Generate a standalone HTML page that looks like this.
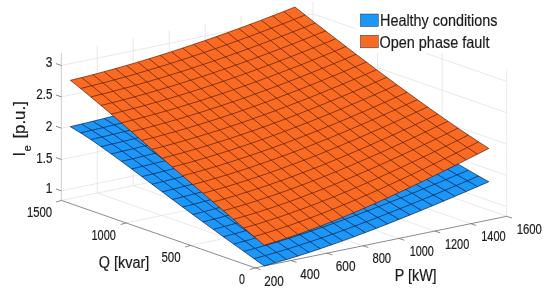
<!DOCTYPE html>
<html><head><meta charset="utf-8"><title>Excitation current surface</title>
<style>
html,body{margin:0;padding:0;background:#fff;}
svg{display:block;filter:blur(0.3px);}
.gr{stroke:#e0e0e0;stroke-width:0.7;}
.ax{stroke:#666;stroke-width:0.75;}
.axz{stroke:#d2d2d2;stroke-width:1.1;}
.sb{stroke:rgba(5,25,60,0.78);stroke-width:0.85;stroke-linejoin:round;}
.so{stroke:rgba(70,15,0,0.72);stroke-width:0.85;stroke-linejoin:round;}
.sw{stroke:#333;stroke-width:0.5;}
</style></head><body>
<svg width="550" height="301" viewBox="0 0 550 301">
<rect width="550" height="301" fill="#fff"/>
<g><line x1="97.33" y1="193.03" x2="97.33" y2="45.60" class="gr"/><line x1="133.26" y1="185.66" x2="133.26" y2="38.23" class="gr"/><line x1="169.19" y1="178.29" x2="169.19" y2="30.86" class="gr"/><line x1="205.12" y1="170.92" x2="205.12" y2="23.49" class="gr"/><line x1="241.05" y1="163.55" x2="241.05" y2="16.12" class="gr"/><line x1="276.98" y1="156.18" x2="276.98" y2="8.75" class="gr"/><line x1="312.91" y1="148.81" x2="312.91" y2="1.38" class="gr"/><line x1="61.40" y1="190.80" x2="312.91" y2="139.21" class="gr"/><line x1="312.91" y1="139.21" x2="506.71" y2="206.71" class="gr"/><line x1="61.40" y1="159.48" x2="312.91" y2="107.89" class="gr"/><line x1="312.91" y1="107.89" x2="506.71" y2="175.39" class="gr"/><line x1="61.40" y1="128.15" x2="312.91" y2="76.56" class="gr"/><line x1="312.91" y1="76.56" x2="506.71" y2="144.06" class="gr"/><line x1="61.40" y1="96.83" x2="312.91" y2="45.24" class="gr"/><line x1="312.91" y1="45.24" x2="506.71" y2="112.74" class="gr"/><line x1="61.40" y1="65.50" x2="312.91" y2="13.91" class="gr"/><line x1="312.91" y1="13.91" x2="506.71" y2="81.41" class="gr"/><line x1="506.71" y1="216.31" x2="506.71" y2="68.88" class="gr"/><line x1="442.11" y1="193.81" x2="442.11" y2="46.38" class="gr"/><line x1="377.51" y1="171.31" x2="377.51" y2="23.88" class="gr"/><line x1="291.13" y1="260.53" x2="97.33" y2="193.03" class="gr"/><line x1="327.06" y1="253.16" x2="133.26" y2="185.66" class="gr"/><line x1="362.99" y1="245.79" x2="169.19" y2="178.29" class="gr"/><line x1="398.92" y1="238.42" x2="205.12" y2="170.92" class="gr"/><line x1="434.85" y1="231.05" x2="241.05" y2="163.55" class="gr"/><line x1="470.78" y1="223.68" x2="276.98" y2="156.18" class="gr"/><line x1="506.71" y1="216.31" x2="312.91" y2="148.81" class="gr"/><line x1="190.60" y1="245.40" x2="442.11" y2="193.81" class="gr"/><line x1="126.00" y1="222.90" x2="377.51" y2="171.31" class="gr"/><line x1="61.40" y1="200.40" x2="312.91" y2="148.81" class="gr"/></g>
<g><line x1="61.40" y1="200.40" x2="61.40" y2="52.97" class="axz"/><line x1="255.20" y1="267.90" x2="61.40" y2="200.40" class="ax"/><line x1="255.20" y1="267.90" x2="506.71" y2="216.31" class="ax"/><line x1="61.40" y1="190.80" x2="55.90" y2="188.90" class="ax"/><line x1="61.40" y1="159.48" x2="55.90" y2="157.58" class="ax"/><line x1="61.40" y1="128.15" x2="55.90" y2="126.25" class="ax"/><line x1="61.40" y1="96.83" x2="55.90" y2="94.93" class="ax"/><line x1="61.40" y1="65.50" x2="55.90" y2="63.60" class="ax"/><line x1="255.20" y1="267.90" x2="249.80" y2="269.50" class="ax"/><line x1="190.60" y1="245.40" x2="185.20" y2="247.00" class="ax"/><line x1="126.00" y1="222.90" x2="120.60" y2="224.50" class="ax"/><line x1="61.40" y1="200.40" x2="56.00" y2="202.00" class="ax"/><line x1="255.20" y1="267.90" x2="260.60" y2="269.70" class="ax"/><line x1="291.13" y1="260.53" x2="296.53" y2="262.33" class="ax"/><line x1="327.06" y1="253.16" x2="332.46" y2="254.96" class="ax"/><line x1="362.99" y1="245.79" x2="368.39" y2="247.59" class="ax"/><line x1="398.92" y1="238.42" x2="404.32" y2="240.22" class="ax"/><line x1="434.85" y1="231.05" x2="440.25" y2="232.85" class="ax"/><line x1="470.78" y1="223.68" x2="476.18" y2="225.48" class="ax"/><line x1="506.71" y1="216.31" x2="512.11" y2="218.11" class="ax"/></g>
<polygon points="264.18,265.92 275.41,262.80 286.64,259.50 297.87,256.05 309.09,252.45 320.32,248.71 331.55,244.84 342.78,240.86 354.01,236.76 365.24,232.56 376.46,228.27 387.69,223.90 398.92,219.45 410.15,214.93 421.38,210.35 432.60,205.70 443.83,201.01 455.06,196.26 466.29,191.47 477.52,186.64 488.75,181.77 478.55,176.00 468.35,170.13 458.14,164.16 447.94,158.11 437.75,151.98 427.55,145.77 417.35,139.49 407.15,133.15 396.95,126.75 386.75,120.29 376.55,113.78 366.35,107.23 356.15,100.63 345.95,93.98 335.75,87.30 325.55,80.59 315.35,73.84 305.15,67.06 294.95,60.25 283.72,64.15 272.49,68.00 261.26,71.80 250.03,75.54 238.80,79.23 227.58,82.86 216.35,86.43 205.12,89.93 193.89,93.38 182.66,96.76 171.44,100.07 160.21,103.32 148.98,106.49 137.75,109.60 126.52,112.63 115.29,115.59 104.07,118.48 92.84,121.29 81.61,124.02 70.38,126.68 80.58,132.89 90.78,139.57 100.98,146.60 111.18,153.88 121.38,161.35 131.58,168.92 141.78,176.55 151.98,184.20 162.18,191.83 172.38,199.43 182.58,206.99 192.78,214.49 202.98,221.95 213.18,229.35 223.38,236.72 233.58,244.05 243.78,251.36 253.98,258.65" fill="#1c96f7" class="sb"/><path d="M275.41,262.80 L265.21,255.58 L255.01,248.33 L244.81,241.07 L234.61,233.77 L224.41,226.44 L214.21,219.07 L204.01,211.65 L193.81,204.18 L183.61,196.66 L173.41,189.09 L163.21,181.49 L153.01,173.88 L142.81,166.28 L132.61,158.73 L122.41,151.29 L112.21,144.01 L102.01,136.98 L91.81,130.28 L81.61,124.02 M286.64,259.50 L276.44,252.34 L266.24,245.16 L256.04,237.94 L245.84,230.69 L235.64,223.40 L225.44,216.07 L215.24,208.69 L205.04,201.26 L194.84,193.77 L184.64,186.24 L174.44,178.68 L164.24,171.11 L154.04,163.54 L143.84,156.03 L133.64,148.61 L123.44,141.34 L113.24,134.31 L103.04,127.59 L92.84,121.29 M297.87,256.05 L287.67,248.96 L277.47,241.83 L267.27,234.67 L257.07,227.48 L246.87,220.24 L236.67,212.95 L226.47,205.61 L216.27,198.23 L206.07,190.78 L195.87,183.30 L185.67,175.78 L175.47,168.24 L165.27,160.71 L155.07,153.23 L144.87,145.84 L134.67,138.59 L124.47,131.56 L114.27,124.82 L104.07,118.48 M309.09,252.45 L298.89,245.43 L288.69,238.38 L278.50,231.28 L268.29,224.14 L258.09,216.95 L247.89,209.72 L237.69,202.43 L227.50,195.09 L217.29,187.69 L207.09,180.25 L196.89,172.78 L186.69,165.28 L176.50,157.80 L166.29,150.35 L156.09,142.98 L145.90,135.76 L135.69,128.73 L125.50,121.97 L115.29,115.59 M320.32,248.71 L310.12,241.77 L299.92,234.79 L289.72,227.76 L279.52,220.68 L269.32,213.55 L259.12,206.37 L248.92,199.13 L238.72,191.84 L228.52,184.50 L218.32,177.11 L208.12,169.68 L197.92,162.23 L187.72,154.79 L177.52,147.38 L167.32,140.05 L157.12,132.84 L146.92,125.82 L136.72,119.05 L126.52,112.63 M331.55,244.84 L321.35,237.99 L311.15,231.08 L300.95,224.12 L290.75,217.10 L280.55,210.04 L270.35,202.91 L260.15,195.73 L249.95,188.50 L239.75,181.20 L229.55,173.87 L219.35,166.49 L209.15,159.09 L198.95,151.70 L188.75,144.33 L178.55,137.03 L168.35,129.84 L158.15,122.83 L147.95,116.05 L137.75,109.60 M342.78,240.86 L332.58,234.09 L322.38,227.26 L312.18,220.37 L301.98,213.42 L291.78,206.42 L281.58,199.35 L271.38,192.23 L261.18,185.05 L250.98,177.82 L240.78,170.53 L230.58,163.21 L220.38,155.87 L210.18,148.52 L199.98,141.19 L189.78,133.93 L179.58,126.77 L169.38,119.77 L159.18,112.98 L148.98,106.49 M354.01,236.76 L343.81,230.08 L333.61,223.33 L323.41,216.51 L313.21,209.63 L303.01,202.70 L292.81,195.70 L282.61,188.64 L272.41,181.52 L262.21,174.34 L252.01,167.11 L241.81,159.85 L231.61,152.56 L221.41,145.26 L211.21,137.98 L201.01,130.75 L190.81,123.62 L180.61,116.63 L170.41,109.84 L160.21,103.32 M365.24,232.56 L355.04,225.97 L344.84,219.30 L334.64,212.56 L324.44,205.75 L314.24,198.88 L304.04,191.94 L293.84,184.95 L283.64,177.89 L273.44,170.77 L263.24,163.61 L253.04,156.40 L242.84,149.16 L232.64,141.92 L222.44,134.69 L212.24,127.50 L202.04,120.39 L191.84,113.42 L181.64,106.62 L171.44,100.07 M376.46,228.27 L366.26,221.76 L356.06,215.17 L345.86,208.51 L335.66,201.78 L325.46,194.97 L315.26,188.10 L305.06,181.17 L294.86,174.18 L284.66,167.12 L274.46,160.02 L264.26,152.87 L254.06,145.69 L243.86,138.50 L233.66,131.32 L223.46,124.17 L213.26,117.10 L203.06,110.14 L192.86,103.34 L182.66,96.76 M387.69,223.90 L377.49,217.48 L367.29,210.97 L357.09,204.38 L346.89,197.71 L336.69,190.98 L326.49,184.18 L316.29,177.31 L306.09,170.38 L295.89,163.39 L285.69,156.35 L275.49,149.26 L265.29,142.14 L255.09,135.01 L244.89,127.88 L234.69,120.77 L224.49,113.73 L214.29,106.79 L204.09,99.98 L193.89,93.38 M398.92,219.45 L388.72,213.11 L378.52,206.68 L368.32,200.16 L358.12,193.57 L347.92,186.91 L337.72,180.18 L327.52,173.37 L317.32,166.51 L307.12,159.58 L296.92,152.61 L286.72,145.58 L276.52,138.52 L266.32,131.44 L256.12,124.36 L245.92,117.30 L235.72,110.29 L225.52,103.37 L215.32,96.57 L205.12,89.93 M410.15,214.93 L399.95,208.67 L389.75,202.31 L379.55,195.87 L369.35,189.36 L359.15,182.76 L348.95,176.10 L338.75,169.36 L328.55,162.56 L318.35,155.70 L308.15,148.79 L297.95,141.83 L287.75,134.83 L277.55,127.81 L267.35,120.78 L257.15,113.77 L246.95,106.79 L236.75,99.89 L226.55,93.08 L216.35,86.43 M421.38,210.35 L411.18,204.16 L400.98,197.88 L390.78,191.52 L380.58,185.07 L370.38,178.54 L360.18,171.95 L349.98,165.28 L339.78,158.55 L329.58,151.75 L319.38,144.90 L309.18,138.00 L298.98,131.07 L288.78,124.11 L278.58,117.13 L268.38,110.16 L258.18,103.23 L247.98,96.34 L237.78,89.54 L227.58,82.86 M432.60,205.70 L422.40,199.59 L412.20,193.39 L402.00,187.09 L391.80,180.72 L381.60,174.26 L371.40,167.73 L361.20,161.13 L351.00,154.46 L340.80,147.73 L330.60,140.95 L320.40,134.12 L310.20,127.24 L300.00,120.34 L289.80,113.42 L279.60,106.50 L269.40,99.60 L259.20,92.73 L249.00,85.93 L238.80,79.23 M443.83,201.01 L433.63,194.97 L423.43,188.84 L413.23,182.61 L403.03,176.30 L392.83,169.91 L382.63,163.45 L372.43,156.91 L362.23,150.31 L352.03,143.65 L341.83,136.93 L331.63,130.16 L321.43,123.35 L311.23,116.51 L301.03,109.65 L290.83,102.77 L280.63,95.91 L270.43,89.06 L260.23,82.27 L250.03,75.54 M455.06,196.26 L444.86,190.30 L434.66,184.23 L424.46,178.07 L414.26,171.83 L404.06,165.51 L393.86,159.11 L383.66,152.64 L373.46,146.10 L363.26,139.51 L353.06,132.86 L342.86,126.15 L332.66,119.41 L322.46,112.62 L312.26,105.81 L302.06,98.99 L291.86,92.16 L281.66,85.34 L271.46,78.55 L261.26,71.80 M466.29,191.47 L456.09,185.57 L445.89,179.58 L435.69,173.48 L425.49,167.31 L415.29,161.05 L405.09,154.71 L394.89,148.31 L384.69,141.84 L374.49,135.31 L364.29,128.72 L354.09,122.08 L343.89,115.40 L333.69,108.68 L323.49,101.92 L313.29,95.15 L303.09,88.36 L292.89,81.56 L282.69,74.77 L272.49,68.00 M477.52,186.64 L467.32,180.81 L457.12,174.87 L446.92,168.85 L436.72,162.73 L426.52,156.54 L416.32,150.27 L406.12,143.93 L395.92,137.52 L385.72,131.05 L375.52,124.53 L365.32,117.96 L355.12,111.34 L344.92,104.68 L334.72,97.98 L324.52,91.25 L314.32,84.50 L304.12,77.73 L293.92,70.94 L283.72,64.15 M253.98,258.65 L265.21,255.58 L276.44,252.34 L287.67,248.96 L298.89,245.43 L310.12,241.77 L321.35,237.99 L332.58,234.09 L343.81,230.08 L355.04,225.97 L366.26,221.76 L377.49,217.48 L388.72,213.11 L399.95,208.67 L411.18,204.16 L422.40,199.59 L433.63,194.97 L444.86,190.30 L456.09,185.57 L467.32,180.81 L478.55,176.00 M243.78,251.36 L255.01,248.33 L266.24,245.16 L277.47,241.83 L288.69,238.38 L299.92,234.79 L311.15,231.08 L322.38,227.26 L333.61,223.33 L344.84,219.30 L356.06,215.17 L367.29,210.97 L378.52,206.68 L389.75,202.31 L400.98,197.88 L412.20,193.39 L423.43,188.84 L434.66,184.23 L445.89,179.58 L457.12,174.87 L468.35,170.13 M233.58,244.05 L244.81,241.07 L256.04,237.94 L267.27,234.67 L278.50,231.28 L289.72,227.76 L300.95,224.12 L312.18,220.37 L323.41,216.51 L334.64,212.56 L345.86,208.51 L357.09,204.38 L368.32,200.16 L379.55,195.87 L390.78,191.52 L402.00,187.09 L413.23,182.61 L424.46,178.07 L435.69,173.48 L446.92,168.85 L458.14,164.16 M223.38,236.72 L234.61,233.77 L245.84,230.69 L257.07,227.48 L268.29,224.14 L279.52,220.68 L290.75,217.10 L301.98,213.42 L313.21,209.63 L324.44,205.75 L335.66,201.78 L346.89,197.71 L358.12,193.57 L369.35,189.36 L380.58,185.07 L391.80,180.72 L403.03,176.30 L414.26,171.83 L425.49,167.31 L436.72,162.73 L447.94,158.11 M213.18,229.35 L224.41,226.44 L235.64,223.40 L246.87,220.24 L258.09,216.95 L269.32,213.55 L280.55,210.04 L291.78,206.42 L303.01,202.70 L314.24,198.88 L325.46,194.97 L336.69,190.98 L347.92,186.91 L359.15,182.76 L370.38,178.54 L381.60,174.26 L392.83,169.91 L404.06,165.51 L415.29,161.05 L426.52,156.54 L437.75,151.98 M202.98,221.95 L214.21,219.07 L225.44,216.07 L236.67,212.95 L247.89,209.72 L259.12,206.37 L270.35,202.91 L281.58,199.35 L292.81,195.70 L304.04,191.94 L315.26,188.10 L326.49,184.18 L337.72,180.18 L348.95,176.10 L360.18,171.95 L371.40,167.73 L382.63,163.45 L393.86,159.11 L405.09,154.71 L416.32,150.27 L427.55,145.77 M192.78,214.49 L204.01,211.65 L215.24,208.69 L226.47,205.61 L237.69,202.43 L248.92,199.13 L260.15,195.73 L271.38,192.23 L282.61,188.64 L293.84,184.95 L305.06,181.17 L316.29,177.31 L327.52,173.37 L338.75,169.36 L349.98,165.28 L361.20,161.13 L372.43,156.91 L383.66,152.64 L394.89,148.31 L406.12,143.93 L417.35,139.49 M182.58,206.99 L193.81,204.18 L205.04,201.26 L216.27,198.23 L227.50,195.09 L238.72,191.84 L249.95,188.50 L261.18,185.05 L272.41,181.52 L283.64,177.89 L294.86,174.18 L306.09,170.38 L317.32,166.51 L328.55,162.56 L339.78,158.55 L351.00,154.46 L362.23,150.31 L373.46,146.10 L384.69,141.84 L395.92,137.52 L407.15,133.15 M172.38,199.43 L183.61,196.66 L194.84,193.77 L206.07,190.78 L217.29,187.69 L228.52,184.50 L239.75,181.20 L250.98,177.82 L262.21,174.34 L273.44,170.77 L284.66,167.12 L295.89,163.39 L307.12,159.58 L318.35,155.70 L329.58,151.75 L340.80,147.73 L352.03,143.65 L363.26,139.51 L374.49,135.31 L385.72,131.05 L396.95,126.75 M162.18,191.83 L173.41,189.09 L184.64,186.24 L195.87,183.30 L207.09,180.25 L218.32,177.11 L229.55,173.87 L240.78,170.53 L252.01,167.11 L263.24,163.61 L274.46,160.02 L285.69,156.35 L296.92,152.61 L308.15,148.79 L319.38,144.90 L330.60,140.95 L341.83,136.93 L353.06,132.86 L364.29,128.72 L375.52,124.53 L386.75,120.29 M151.98,184.20 L163.21,181.49 L174.44,178.68 L185.67,175.78 L196.89,172.78 L208.12,169.68 L219.35,166.49 L230.58,163.21 L241.81,159.85 L253.04,156.40 L264.26,152.87 L275.49,149.26 L286.72,145.58 L297.95,141.83 L309.18,138.00 L320.40,134.12 L331.63,130.16 L342.86,126.15 L354.09,122.08 L365.32,117.96 L376.55,113.78 M141.78,176.55 L153.01,173.88 L164.24,171.11 L175.47,168.24 L186.69,165.28 L197.92,162.23 L209.15,159.09 L220.38,155.87 L231.61,152.56 L242.84,149.16 L254.06,145.69 L265.29,142.14 L276.52,138.52 L287.75,134.83 L298.98,131.07 L310.20,127.24 L321.43,123.35 L332.66,119.41 L343.89,115.40 L355.12,111.34 L366.35,107.23 M131.58,168.92 L142.81,166.28 L154.04,163.54 L165.27,160.71 L176.50,157.80 L187.72,154.79 L198.95,151.70 L210.18,148.52 L221.41,145.26 L232.64,141.92 L243.86,138.50 L255.09,135.01 L266.32,131.44 L277.55,127.81 L288.78,124.11 L300.00,120.34 L311.23,116.51 L322.46,112.62 L333.69,108.68 L344.92,104.68 L356.15,100.63 M121.38,161.35 L132.61,158.73 L143.84,156.03 L155.07,153.23 L166.29,150.35 L177.52,147.38 L188.75,144.33 L199.98,141.19 L211.21,137.98 L222.44,134.69 L233.66,131.32 L244.89,127.88 L256.12,124.36 L267.35,120.78 L278.58,117.13 L289.80,113.42 L301.03,109.65 L312.26,105.81 L323.49,101.92 L334.72,97.98 L345.95,93.98 M111.18,153.88 L122.41,151.29 L133.64,148.61 L144.87,145.84 L156.09,142.98 L167.32,140.05 L178.55,137.03 L189.78,133.93 L201.01,130.75 L212.24,127.50 L223.46,124.17 L234.69,120.77 L245.92,117.30 L257.15,113.77 L268.38,110.16 L279.60,106.50 L290.83,102.77 L302.06,98.99 L313.29,95.15 L324.52,91.25 L335.75,87.30 M100.98,146.60 L112.21,144.01 L123.44,141.34 L134.67,138.59 L145.90,135.76 L157.12,132.84 L168.35,129.84 L179.58,126.77 L190.81,123.62 L202.04,120.39 L213.26,117.10 L224.49,113.73 L235.72,110.29 L246.95,106.79 L258.18,103.23 L269.40,99.60 L280.63,95.91 L291.86,92.16 L303.09,88.36 L314.32,84.50 L325.55,80.59 M90.78,139.57 L102.01,136.98 L113.24,134.31 L124.47,131.56 L135.69,128.73 L146.92,125.82 L158.15,122.83 L169.38,119.77 L180.61,116.63 L191.84,113.42 L203.06,110.14 L214.29,106.79 L225.52,103.37 L236.75,99.89 L247.98,96.34 L259.20,92.73 L270.43,89.06 L281.66,85.34 L292.89,81.56 L304.12,77.73 L315.35,73.84 M80.58,132.89 L91.81,130.28 L103.04,127.59 L114.27,124.82 L125.50,121.97 L136.72,119.05 L147.95,116.05 L159.18,112.98 L170.41,109.84 L181.64,106.62 L192.86,103.34 L204.09,99.98 L215.32,96.57 L226.55,93.08 L237.78,89.54 L249.00,85.93 L260.23,82.27 L271.46,78.55 L282.69,74.77 L293.92,70.94 L305.15,67.06" fill="none" class="sb"/>
<polygon points="264.18,245.21 275.41,241.82 286.64,238.21 297.87,234.39 309.09,230.37 320.32,226.17 331.55,221.80 342.78,217.26 354.01,212.58 365.24,207.76 376.46,202.82 387.69,197.76 398.92,192.59 410.15,187.33 421.38,181.99 432.60,176.56 443.83,171.05 455.06,165.48 466.29,159.85 477.52,154.16 488.75,148.42 478.55,141.80 468.35,135.05 458.14,128.18 447.94,121.19 437.75,114.10 427.55,106.90 417.35,99.61 407.15,92.24 396.95,84.79 386.75,77.27 376.55,69.68 366.35,62.02 356.15,54.31 345.95,46.54 335.75,38.73 325.55,30.86 315.35,22.95 305.15,15.00 294.95,7.02 283.72,11.46 272.49,15.84 261.26,20.14 250.03,24.37 238.80,28.52 227.58,32.60 216.35,36.59 205.12,40.51 193.89,44.34 182.66,48.08 171.44,51.73 160.21,55.29 148.98,58.76 137.75,62.14 126.52,65.42 115.29,68.60 104.07,71.68 92.84,74.66 81.61,77.54 70.38,80.31 80.58,88.49 90.78,96.89 100.98,105.45 111.18,114.13 121.38,122.88 131.58,131.69 141.78,140.52 151.98,149.36 162.18,158.19 172.38,167.00 182.58,175.79 192.78,184.55 202.98,193.28 213.18,201.99 223.38,210.67 233.58,219.34 243.78,227.98 253.98,236.60" fill="#f96b23" class="so"/><path d="M275.41,241.82 L265.21,233.28 L255.01,224.72 L244.81,216.13 L234.61,207.52 L224.41,198.88 L214.21,190.21 L204.01,181.52 L193.81,172.79 L183.61,164.04 L173.41,155.26 L163.21,146.47 L153.01,137.66 L142.81,128.85 L132.61,120.07 L122.41,111.34 L112.21,102.68 L102.01,94.13 L91.81,85.73 L81.61,77.54 M286.64,238.21 L276.44,229.75 L266.24,221.26 L256.04,212.73 L245.84,204.18 L235.64,195.59 L225.44,186.98 L215.24,178.33 L205.04,169.65 L194.84,160.94 L184.64,152.20 L174.44,143.44 L164.24,134.67 L154.04,125.90 L143.84,117.14 L133.64,108.43 L123.44,99.79 L113.24,91.26 L103.04,82.86 L92.84,74.66 M297.87,234.39 L287.67,226.02 L277.47,217.61 L267.27,209.16 L257.07,200.67 L246.87,192.14 L236.67,183.58 L226.47,174.99 L216.27,166.35 L206.07,157.69 L195.87,149.00 L185.67,140.28 L175.47,131.55 L165.27,122.81 L155.07,114.09 L144.87,105.41 L134.67,96.80 L124.47,88.27 L114.27,79.89 L104.07,71.68 M309.09,230.37 L298.89,222.10 L288.69,213.78 L278.50,205.41 L268.29,196.99 L258.09,188.53 L247.89,180.03 L237.69,171.50 L227.50,162.92 L217.29,154.30 L207.09,145.66 L196.89,136.99 L186.69,128.30 L176.50,119.61 L166.29,110.93 L156.09,102.28 L145.90,93.69 L135.69,85.19 L125.50,76.81 L115.29,68.60 M320.32,226.17 L310.12,218.00 L299.92,209.77 L289.72,201.49 L279.52,193.15 L269.32,184.77 L259.12,176.33 L248.92,167.86 L238.72,159.34 L228.52,150.79 L218.32,142.19 L208.12,133.57 L197.92,124.93 L187.72,116.29 L177.52,107.65 L167.32,99.04 L157.12,90.48 L146.92,81.99 L136.72,73.63 L126.52,65.42 M331.55,221.80 L321.35,213.74 L311.15,205.61 L300.95,197.41 L290.75,189.16 L280.55,180.85 L270.35,172.49 L260.15,164.08 L249.95,155.63 L239.75,147.13 L229.55,138.60 L219.35,130.04 L209.15,121.45 L198.95,112.85 L188.75,104.25 L178.55,95.68 L168.35,87.15 L158.15,78.70 L147.95,70.35 L137.75,62.14 M342.78,217.26 L332.58,209.31 L322.38,201.29 L312.18,193.18 L301.98,185.02 L291.78,176.79 L281.58,168.51 L271.38,160.17 L261.18,151.79 L250.98,143.36 L240.78,134.89 L230.58,126.38 L220.38,117.85 L210.18,109.30 L199.98,100.75 L189.78,92.22 L179.58,83.73 L169.38,75.30 L159.18,66.97 L148.98,58.76 M354.01,212.58 L343.81,204.74 L333.61,196.82 L323.41,188.82 L313.21,180.74 L303.01,172.60 L292.81,164.40 L282.61,156.14 L272.41,147.82 L262.21,139.46 L252.01,131.05 L241.81,122.61 L231.61,114.13 L221.41,105.64 L211.21,97.14 L201.01,88.66 L190.81,80.20 L180.61,71.81 L170.41,63.49 L160.21,55.29 M365.24,207.76 L355.04,200.04 L344.84,192.22 L334.64,184.32 L324.44,176.33 L314.24,168.28 L304.04,160.16 L293.84,151.98 L283.64,143.74 L273.44,135.44 L263.24,127.10 L253.04,118.72 L242.84,110.31 L232.64,101.87 L222.44,93.43 L212.24,84.99 L202.04,76.58 L191.84,68.21 L181.64,59.92 L171.44,51.73 M376.46,202.82 L366.26,195.21 L356.06,187.50 L345.86,179.69 L335.66,171.80 L325.46,163.84 L315.26,155.80 L305.06,147.70 L294.86,139.53 L284.66,131.31 L274.46,123.04 L264.26,114.73 L254.06,106.38 L243.86,98.00 L233.66,89.61 L223.46,81.22 L213.26,72.85 L203.06,64.52 L192.86,56.26 L182.66,48.08 M387.69,197.76 L377.49,190.26 L367.29,182.66 L357.09,174.95 L346.89,167.16 L336.69,159.28 L326.49,151.33 L316.29,143.31 L306.09,135.22 L295.89,127.07 L285.69,118.87 L275.49,110.63 L265.29,102.34 L255.09,94.03 L244.89,85.70 L234.69,77.36 L224.49,69.03 L214.29,60.74 L204.09,52.50 L193.89,44.34 M398.92,192.59 L388.72,185.21 L378.52,177.71 L368.32,170.10 L358.12,162.40 L347.92,154.62 L337.72,146.75 L327.52,138.81 L317.32,130.80 L307.12,122.73 L296.92,114.60 L286.72,106.43 L276.52,98.21 L266.32,89.96 L256.12,81.69 L245.92,73.40 L235.72,65.12 L225.52,56.87 L215.32,48.66 L205.12,40.51 M410.15,187.33 L399.95,180.05 L389.75,172.66 L379.55,165.15 L369.35,157.54 L359.15,149.85 L348.95,142.07 L338.75,134.21 L328.55,126.28 L318.35,118.29 L308.15,110.24 L297.95,102.13 L287.75,93.98 L277.55,85.80 L267.35,77.58 L257.15,69.36 L246.95,61.13 L236.75,52.91 L226.55,44.73 L216.35,36.59 M421.38,181.99 L411.18,174.81 L400.98,167.51 L390.78,160.10 L380.58,152.59 L370.38,144.98 L360.18,137.29 L349.98,129.52 L339.78,121.67 L329.58,113.75 L319.38,105.78 L309.18,97.74 L298.98,89.66 L288.78,81.54 L278.58,73.39 L268.38,65.22 L258.18,57.04 L247.98,48.87 L237.78,40.71 L227.58,32.60 M432.60,176.56 L422.40,169.48 L412.20,162.28 L402.00,154.97 L391.80,147.55 L381.60,140.03 L371.40,132.42 L361.20,124.73 L351.00,116.97 L340.80,109.13 L330.60,101.23 L320.40,93.27 L310.20,85.26 L300.00,77.20 L289.80,69.11 L279.60,61.00 L269.40,52.87 L259.20,44.74 L249.00,36.62 L238.80,28.52 M443.83,171.05 L433.63,164.08 L423.43,156.98 L413.23,149.75 L403.03,142.42 L392.83,134.99 L382.63,127.47 L372.43,119.86 L362.23,112.18 L352.03,104.42 L341.83,96.59 L331.63,88.70 L321.43,80.76 L311.23,72.78 L301.03,64.75 L290.83,56.70 L280.63,48.62 L270.43,40.53 L260.23,32.44 L250.03,24.37 M455.06,165.48 L444.86,158.60 L434.66,151.59 L424.46,144.46 L414.26,137.22 L404.06,129.88 L393.86,122.44 L383.66,114.91 L373.46,107.30 L363.26,99.62 L353.06,91.87 L342.86,84.06 L332.66,76.19 L322.46,68.27 L312.26,60.31 L302.06,52.32 L291.86,44.29 L281.66,36.25 L271.46,28.19 L261.26,20.14 M466.29,159.85 L456.09,153.06 L445.89,146.14 L435.69,139.10 L425.49,131.94 L415.29,124.68 L405.09,117.33 L394.89,109.88 L384.69,102.35 L374.49,94.75 L364.29,87.08 L354.09,79.34 L343.89,71.54 L333.69,63.69 L323.49,55.80 L313.29,47.86 L303.09,39.89 L292.89,31.89 L282.69,23.87 L272.49,15.84 M477.52,154.16 L467.32,147.46 L457.12,140.63 L446.92,133.67 L436.72,126.60 L426.52,119.42 L416.32,112.15 L406.12,104.78 L395.92,97.33 L385.72,89.81 L375.52,82.21 L365.32,74.54 L355.12,66.82 L344.92,59.04 L334.72,51.20 L324.52,43.33 L314.32,35.41 L304.12,27.46 L293.92,19.47 L283.72,11.46 M253.98,236.60 L265.21,233.28 L276.44,229.75 L287.67,226.02 L298.89,222.10 L310.12,218.00 L321.35,213.74 L332.58,209.31 L343.81,204.74 L355.04,200.04 L366.26,195.21 L377.49,190.26 L388.72,185.21 L399.95,180.05 L411.18,174.81 L422.40,169.48 L433.63,164.08 L444.86,158.60 L456.09,153.06 L467.32,147.46 L478.55,141.80 M243.78,227.98 L255.01,224.72 L266.24,221.26 L277.47,217.61 L288.69,213.78 L299.92,209.77 L311.15,205.61 L322.38,201.29 L333.61,196.82 L344.84,192.22 L356.06,187.50 L367.29,182.66 L378.52,177.71 L389.75,172.66 L400.98,167.51 L412.20,162.28 L423.43,156.98 L434.66,151.59 L445.89,146.14 L457.12,140.63 L468.35,135.05 M233.58,219.34 L244.81,216.13 L256.04,212.73 L267.27,209.16 L278.50,205.41 L289.72,201.49 L300.95,197.41 L312.18,193.18 L323.41,188.82 L334.64,184.32 L345.86,179.69 L357.09,174.95 L368.32,170.10 L379.55,165.15 L390.78,160.10 L402.00,154.97 L413.23,149.75 L424.46,144.46 L435.69,139.10 L446.92,133.67 L458.14,128.18 M223.38,210.67 L234.61,207.52 L245.84,204.18 L257.07,200.67 L268.29,196.99 L279.52,193.15 L290.75,189.16 L301.98,185.02 L313.21,180.74 L324.44,176.33 L335.66,171.80 L346.89,167.16 L358.12,162.40 L369.35,157.54 L380.58,152.59 L391.80,147.55 L403.03,142.42 L414.26,137.22 L425.49,131.94 L436.72,126.60 L447.94,121.19 M213.18,201.99 L224.41,198.88 L235.64,195.59 L246.87,192.14 L258.09,188.53 L269.32,184.77 L280.55,180.85 L291.78,176.79 L303.01,172.60 L314.24,168.28 L325.46,163.84 L336.69,159.28 L347.92,154.62 L359.15,149.85 L370.38,144.98 L381.60,140.03 L392.83,134.99 L404.06,129.88 L415.29,124.68 L426.52,119.42 L437.75,114.10 M202.98,193.28 L214.21,190.21 L225.44,186.98 L236.67,183.58 L247.89,180.03 L259.12,176.33 L270.35,172.49 L281.58,168.51 L292.81,164.40 L304.04,160.16 L315.26,155.80 L326.49,151.33 L337.72,146.75 L348.95,142.07 L360.18,137.29 L371.40,132.42 L382.63,127.47 L393.86,122.44 L405.09,117.33 L416.32,112.15 L427.55,106.90 M192.78,184.55 L204.01,181.52 L215.24,178.33 L226.47,174.99 L237.69,171.50 L248.92,167.86 L260.15,164.08 L271.38,160.17 L282.61,156.14 L293.84,151.98 L305.06,147.70 L316.29,143.31 L327.52,138.81 L338.75,134.21 L349.98,129.52 L361.20,124.73 L372.43,119.86 L383.66,114.91 L394.89,109.88 L406.12,104.78 L417.35,99.61 M182.58,175.79 L193.81,172.79 L205.04,169.65 L216.27,166.35 L227.50,162.92 L238.72,159.34 L249.95,155.63 L261.18,151.79 L272.41,147.82 L283.64,143.74 L294.86,139.53 L306.09,135.22 L317.32,130.80 L328.55,126.28 L339.78,121.67 L351.00,116.97 L362.23,112.18 L373.46,107.30 L384.69,102.35 L395.92,97.33 L407.15,92.24 M172.38,167.00 L183.61,164.04 L194.84,160.94 L206.07,157.69 L217.29,154.30 L228.52,150.79 L239.75,147.13 L250.98,143.36 L262.21,139.46 L273.44,135.44 L284.66,131.31 L295.89,127.07 L307.12,122.73 L318.35,118.29 L329.58,113.75 L340.80,109.13 L352.03,104.42 L363.26,99.62 L374.49,94.75 L385.72,89.81 L396.95,84.79 M162.18,158.19 L173.41,155.26 L184.64,152.20 L195.87,149.00 L207.09,145.66 L218.32,142.19 L229.55,138.60 L240.78,134.89 L252.01,131.05 L263.24,127.10 L274.46,123.04 L285.69,118.87 L296.92,114.60 L308.15,110.24 L319.38,105.78 L330.60,101.23 L341.83,96.59 L353.06,91.87 L364.29,87.08 L375.52,82.21 L386.75,77.27 M151.98,149.36 L163.21,146.47 L174.44,143.44 L185.67,140.28 L196.89,136.99 L208.12,133.57 L219.35,130.04 L230.58,126.38 L241.81,122.61 L253.04,118.72 L264.26,114.73 L275.49,110.63 L286.72,106.43 L297.95,102.13 L309.18,97.74 L320.40,93.27 L331.63,88.70 L342.86,84.06 L354.09,79.34 L365.32,74.54 L376.55,69.68 M141.78,140.52 L153.01,137.66 L164.24,134.67 L175.47,131.55 L186.69,128.30 L197.92,124.93 L209.15,121.45 L220.38,117.85 L231.61,114.13 L242.84,110.31 L254.06,106.38 L265.29,102.34 L276.52,98.21 L287.75,93.98 L298.98,89.66 L310.20,85.26 L321.43,80.76 L332.66,76.19 L343.89,71.54 L355.12,66.82 L366.35,62.02 M131.58,131.69 L142.81,128.85 L154.04,125.90 L165.27,122.81 L176.50,119.61 L187.72,116.29 L198.95,112.85 L210.18,109.30 L221.41,105.64 L232.64,101.87 L243.86,98.00 L255.09,94.03 L266.32,89.96 L277.55,85.80 L288.78,81.54 L300.00,77.20 L311.23,72.78 L322.46,68.27 L333.69,63.69 L344.92,59.04 L356.15,54.31 M121.38,122.88 L132.61,120.07 L143.84,117.14 L155.07,114.09 L166.29,110.93 L177.52,107.65 L188.75,104.25 L199.98,100.75 L211.21,97.14 L222.44,93.43 L233.66,89.61 L244.89,85.70 L256.12,81.69 L267.35,77.58 L278.58,73.39 L289.80,69.11 L301.03,64.75 L312.26,60.31 L323.49,55.80 L334.72,51.20 L345.95,46.54 M111.18,114.13 L122.41,111.34 L133.64,108.43 L144.87,105.41 L156.09,102.28 L167.32,99.04 L178.55,95.68 L189.78,92.22 L201.01,88.66 L212.24,84.99 L223.46,81.22 L234.69,77.36 L245.92,73.40 L257.15,69.36 L268.38,65.22 L279.60,61.00 L290.83,56.70 L302.06,52.32 L313.29,47.86 L324.52,43.33 L335.75,38.73 M100.98,105.45 L112.21,102.68 L123.44,99.79 L134.67,96.80 L145.90,93.69 L157.12,90.48 L168.35,87.15 L179.58,83.73 L190.81,80.20 L202.04,76.58 L213.26,72.85 L224.49,69.03 L235.72,65.12 L246.95,61.13 L258.18,57.04 L269.40,52.87 L280.63,48.62 L291.86,44.29 L303.09,39.89 L314.32,35.41 L325.55,30.86 M90.78,96.89 L102.01,94.13 L113.24,91.26 L124.47,88.27 L135.69,85.19 L146.92,81.99 L158.15,78.70 L169.38,75.30 L180.61,71.81 L191.84,68.21 L203.06,64.52 L214.29,60.74 L225.52,56.87 L236.75,52.91 L247.98,48.87 L259.20,44.74 L270.43,40.53 L281.66,36.25 L292.89,31.89 L304.12,27.46 L315.35,22.95 M80.58,88.49 L91.81,85.73 L103.04,82.86 L114.27,79.89 L125.50,76.81 L136.72,73.63 L147.95,70.35 L159.18,66.97 L170.41,63.49 L181.64,59.92 L192.86,56.26 L204.09,52.50 L215.32,48.66 L226.55,44.73 L237.78,40.71 L249.00,36.62 L260.23,32.44 L271.46,28.19 L282.69,23.87 L293.92,19.47 L305.15,15.00" fill="none" class="so"/>
<rect x="356" y="8" width="148" height="45" fill="#fff"/>
<rect x="360.4" y="14" width="17.9" height="12.5" fill="#1c96f7" class="sw"/>
<rect x="360.4" y="35.3" width="17.9" height="12.5" fill="#f96b23" class="sw"/>
<g font-family="'Liberation Sans', Arial, sans-serif" fill="#1c1c1c" stroke="#1c1c1c" stroke-width="0.2"><text x="380.00" y="26.40" font-size="16.2" text-anchor="start" textLength="117.5" lengthAdjust="spacingAndGlyphs">Healthy conditions</text><text x="379.50" y="47.70" font-size="16.2" text-anchor="start" textLength="110.0" lengthAdjust="spacingAndGlyphs">Open phase fault</text><text x="52.40" y="67.30" font-size="14.2" text-anchor="end" textLength="6.6" lengthAdjust="spacingAndGlyphs">3</text><text x="52.40" y="99.20" font-size="14.2" text-anchor="end" textLength="16.2" lengthAdjust="spacingAndGlyphs">2.5</text><text x="52.40" y="130.70" font-size="14.2" text-anchor="end" textLength="6.6" lengthAdjust="spacingAndGlyphs">2</text><text x="52.40" y="162.70" font-size="14.2" text-anchor="end" textLength="16.2" lengthAdjust="spacingAndGlyphs">1.5</text><text x="52.40" y="193.30" font-size="14.2" text-anchor="end" textLength="6.6" lengthAdjust="spacingAndGlyphs">1</text><text x="27.00" y="217.20" font-size="14.1" text-anchor="start" textLength="25.1" lengthAdjust="spacingAndGlyphs">1500</text><text x="91.50" y="239.50" font-size="14.1" text-anchor="start" textLength="24.3" lengthAdjust="spacingAndGlyphs">1000</text><text x="161.40" y="261.80" font-size="14.1" text-anchor="start" textLength="19.2" lengthAdjust="spacingAndGlyphs">500</text><text x="238.90" y="284.40" font-size="14.1" text-anchor="start" textLength="5.9" lengthAdjust="spacingAndGlyphs">0</text><text x="264.30" y="286.30" font-size="14.1" text-anchor="start" textLength="19.5" lengthAdjust="spacingAndGlyphs">200</text><text x="300.30" y="278.70" font-size="14.1" text-anchor="start" textLength="19.5" lengthAdjust="spacingAndGlyphs">400</text><text x="335.80" y="271.30" font-size="14.1" text-anchor="start" textLength="19.7" lengthAdjust="spacingAndGlyphs">600</text><text x="372.40" y="262.60" font-size="14.1" text-anchor="start" textLength="18.7" lengthAdjust="spacingAndGlyphs">800</text><text x="409.80" y="256.20" font-size="14.1" text-anchor="start" textLength="24.1" lengthAdjust="spacingAndGlyphs">1000</text><text x="444.90" y="248.80" font-size="14.1" text-anchor="start" textLength="24.4" lengthAdjust="spacingAndGlyphs">1200</text><text x="481.20" y="241.20" font-size="14.1" text-anchor="start" textLength="24.4" lengthAdjust="spacingAndGlyphs">1400</text><text x="516.70" y="233.60" font-size="14.1" text-anchor="start" textLength="25.2" lengthAdjust="spacingAndGlyphs">1600</text><text x="98.80" y="267.50" font-size="16" text-anchor="start" textLength="50.5" lengthAdjust="spacingAndGlyphs">Q [kvar]</text><text x="394.80" y="281.00" font-size="16" text-anchor="start" textLength="41.8" lengthAdjust="spacingAndGlyphs">P [kW]</text><text transform="translate(25.2,156.6) rotate(-90)" font-size="16">I</text><text transform="translate(30.6,151.6) rotate(-90)" font-size="11.4">e</text><text transform="translate(25.2,138.6) rotate(-90)" font-size="16" textLength="37.4" lengthAdjust="spacingAndGlyphs">[p.u.]</text></g>
</svg>
</body></html>
